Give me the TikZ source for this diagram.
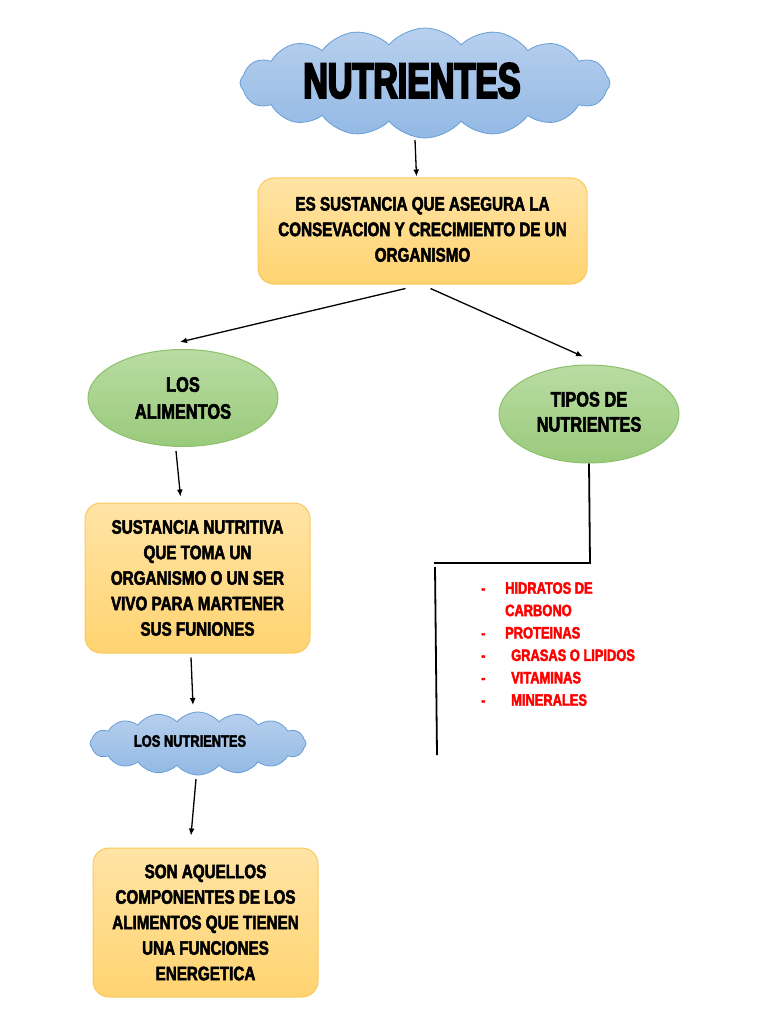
\documentclass[tikz,border=0pt]{standalone}
\usepackage{fontspec}
\usetikzlibrary{arrows.meta, shapes.symbols, shapes.geometric}
\newfontfamily\titlefont[FakeStretch=0.68,FakeBold=4]{Liberation Sans Bold}
\newfontfamily\boxfont[FakeStretch=0.78,FakeBold=2.5]{Liberation Sans Bold}
\definecolor{cloudtop}{RGB}{184, 208, 238}
\definecolor{cloudbot}{RGB}{146, 185, 228}
\definecolor{cloudline}{RGB}{104, 158, 214}
\definecolor{boxtop}{RGB}{255, 228, 166}
\definecolor{boxbot}{RGB}{255, 211, 112}
\definecolor{boxline}{RGB}{250, 200, 90}
\definecolor{greentop}{RGB}{185, 220, 162}
\definecolor{greenbot}{RGB}{154, 202, 124}
\definecolor{greenline}{RGB}{140, 192, 106}
\definecolor{listred}{RGB}{255, 0, 0}
\tikzset{
  cloudnode/.style={
    cloud, cloud puffs=16, cloud puff arc=100, cloud ignores aspect,
    draw=cloudline, line width=0.8pt, top color=cloudtop, bottom color=cloudbot,
    inner sep=0pt
  },
  infobox/.style={
    rectangle, rounded corners=16pt, draw=boxline, line width=1pt,
    top color=boxtop, bottom color=boxbot, align=center, inner sep=0pt,
    font=\boxfont\fontsize{19.5}{25.5}\selectfont
  },
  bubble/.style={
    ellipse, draw=greenline, line width=1pt, top color=greentop,
    bottom color=greenbot, align=center, inner sep=0pt,
    font=\boxfont\fontsize{21}{27}\selectfont
  },
  arrow/.style={
    -{Latex[length=7pt, width=6pt]}, line width=1.3pt
  },
  bracketline/.style={
    line width=1.8pt
  }
}

\begin{document}
\begin{tikzpicture}[x=1pt, y=-1pt]
  \useasboundingbox (0,0) rectangle (768,1024);

  % title
  \node[cloudnode, minimum width=370pt, minimum height=110pt,
        font=\titlefont\fontsize{50}{50}\selectfont] (title) at (425,83)
    {\raisebox{5pt}{NUTRIENTES}\makebox[26pt]{}};
  \node[infobox, minimum width=329pt, minimum height=106pt] (definition) at (422.5,231)
    {\raisebox{5pt}{\begin{tabular}{@{}c@{}}ES SUSTANCIA QUE ASEGURA LA\\CONSEVACION Y CRECIMIENTO DE UN\\ORGANISMO\end{tabular}}};

  % left branch
  \node[bubble, minimum width=190pt, minimum height=97pt] (alimentos) at (183,398) {LOS\\ALIMENTOS};
  \node[infobox, minimum width=225pt, minimum height=150pt] (sustancia) at (197.5,578)
    {SUSTANCIA NUTRITIVA\\QUE TOMA UN\\ORGANISMO O UN SER\\VIVO PARA MARTENER\\SUS FUNIONES};
  \node[cloudnode, minimum width=216pt, minimum height=63pt,
        font=\boxfont\fontsize{16.5}{20}\selectfont] (losnutri) at (198,743.5)
    {\raisebox{5pt}{LOS NUTRIENTES}\makebox[16pt]{}};
  \node[infobox, minimum width=225pt, minimum height=149pt] (componentes) at (205.5,922.5)
    {SON AQUELLOS\\COMPONENTES DE LOS\\ALIMENTOS QUE TIENEN\\UNA FUNCIONES\\ENERGETICA};

  % right branch
  \node[bubble, minimum width=180pt, minimum height=98pt,
        font=\boxfont\fontsize{21}{25}\selectfont] (tipos) at (589,414)
    {\raisebox{6pt}{\begin{tabular}{@{}c@{}}TIPOS DE\\NUTRIENTES\end{tabular}}};
  \node[anchor=north west, align=left, inner sep=0pt, text=listred,
        font=\boxfont\fontsize{16.5}{22.4}\selectfont] (tiposlist) at (481,582)
    {\makebox[24pt][l]{-}HIDRATOS DE\\
     \makebox[24pt][l]{}CARBONO\\
     \makebox[24pt][l]{-}PROTEINAS\\
     \makebox[24pt][l]{-}\hspace{6pt}GRASAS O LIPIDOS\\
     \makebox[24pt][l]{-}\hspace{6pt}VITAMINAS\\
     \makebox[24pt][l]{-}\hspace{6pt}MINERALES};
  \coordinate (tipcorner) at (590,563);
  \coordinate (tipend) at (434,563);
  \coordinate (bartop) at (435,567);
  \coordinate (barbottom) at (437,755);

  % connectors
  \draw[arrow] ([xshift=-10pt,yshift=-57pt]title.center) -- ([xshift=-6pt,yshift=1pt]definition.north);
  \draw[arrow] ([xshift=-17pt,yshift=-4pt]definition.south) -- ([xshift=-3pt,yshift=7pt]alimentos.north);
  \draw[arrow] ([xshift=8pt,yshift=-4pt]definition.south) -- ([xshift=-6pt,yshift=8pt]tipos.north);
  \draw[arrow] ([xshift=-7pt,yshift=-4pt]alimentos.south) -- ([xshift=-17pt,yshift=6pt]sustancia.north);
  \draw[arrow] ([xshift=-6.5pt,yshift=-4pt]sustancia.south) -- ([xshift=-5pt,yshift=38.5pt]losnutri.center);
  \draw[arrow] ([xshift=-2pt,yshift=-35.5pt]losnutri.center) -- ([xshift=-14.5pt,yshift=12pt]componentes.north);
  \draw[bracketline] (tipos.south) -- (tipcorner) -- (tipend);
  \draw[bracketline] (bartop) -- (barbottom);
\end{tikzpicture}
\end{document}
